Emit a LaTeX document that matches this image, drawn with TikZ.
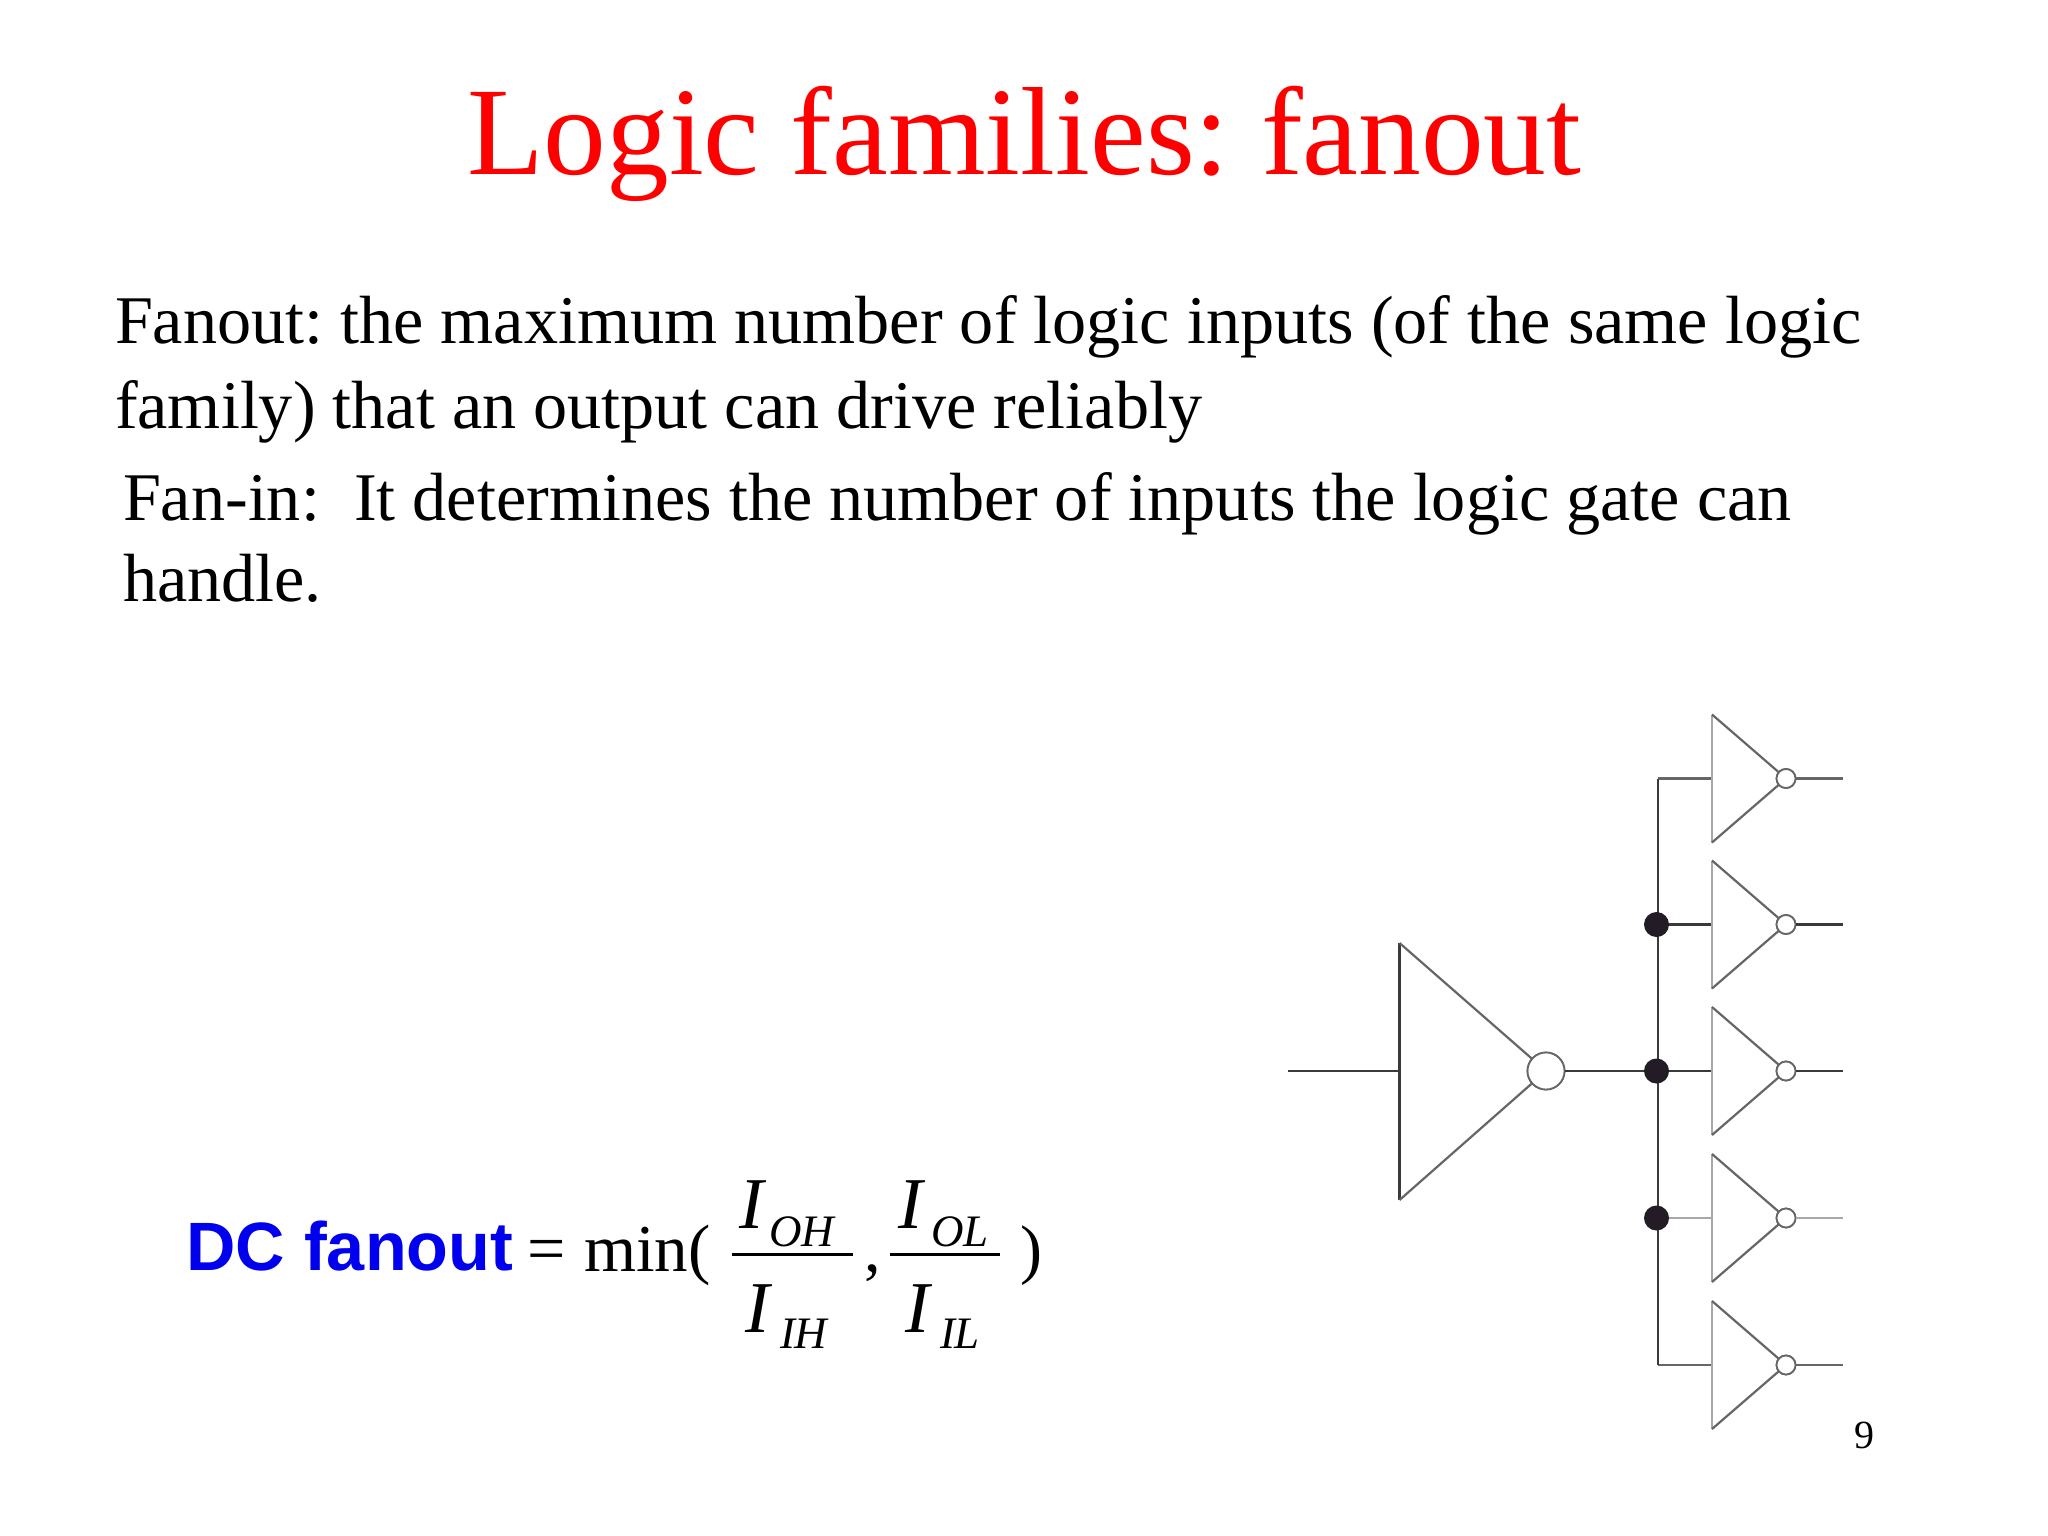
\documentclass[tikz,border=0pt]{standalone}
\usepackage{fontspec}
\setmainfont{Liberation Serif}
\newfontfamily\dcfont{Liberation Sans}
\frenchspacing
\definecolor{wirec}{HTML}{3A3A3A}
\definecolor{gatec}{HTML}{666666}
\definecolor{lightc}{HTML}{A8A8A8}
\definecolor{dotc}{HTML}{231C26}
\tikzset{
  tx/.style={anchor=base west,inner sep=0pt,outer sep=0pt},
  wire/.style={draw=wirec,line width=2.2pt},
  gateline/.style={draw=gatec,line width=2.2pt},
  bubble/.style={circle,draw=gatec,fill=white,line width=1.8pt,inner sep=0pt},
  jdot/.style={circle,fill=dotc,inner sep=0pt,minimum size=25pt},
  fracbar/.style={draw=black,line width=3pt},
}
\begin{document}
\begin{tikzpicture}[x=1pt,y=-1pt]
\useasboundingbox (0,0) rectangle (2048,1536);
\fill[white] (0,0) rectangle (2048,1536);
% text
\node[tx,text=red,font={\fontsize{125.4}{125.4}\selectfont}] (title) at (467,175) {Logic families: fanout};
\node[tx,font={\fontsize{68.2}{68.2}\selectfont}] (l1) at (115,343.5) {Fanout: the maximum number of logic inputs (of the same logic};
\node[tx,font={\fontsize{68.2}{68.2}\selectfont}] (l2) at (115,428.5) {family) that an output can drive reliably};
\node[tx,font={\fontsize{68.2}{68.2}\selectfont}] (l3) at (123,520) {Fan-in:\ \ It determines the number of inputs the logic gate can};
\node[tx,font={\fontsize{68.2}{68.2}\selectfont}] (l4) at (123,601.5) {handle.};
\node[tx,text={rgb,255:red,0;green,0;blue,238},font={\dcfont\bfseries\fontsize{68.4}{68.4}\selectfont}] (dc) at (186.5,1270) {DC fanout};
\node[tx,font={\fontsize{68}{68}\selectfont}] (eq) at (527,1271) {=};
\node[tx,font={\fontsize{67}{67}\selectfont}] (mn) at (584,1271) {min(};
\node[tx,font={\fontsize{66}{66}\selectfont}] (cm) at (864,1271) {,};
\node[tx,font={\fontsize{66}{66}\selectfont}] (cl) at (1020,1271) {)};
\node[tx,font={\itshape\fontsize{73}{73}\selectfont}] (i1) at (739,1228) {I};
\node[tx,font={\itshape\fontsize{45}{45}\selectfont}] (s1) at (769.5,1246) {OH};
\node[tx,font={\itshape\fontsize{73}{73}\selectfont}] (i2) at (745,1332) {I};
\node[tx,font={\itshape\fontsize{45}{45}\selectfont}] (s2) at (780,1348) {IH};
\node[tx,font={\itshape\fontsize{73}{73}\selectfont}] (i3) at (898,1228) {I};
\node[tx,font={\itshape\fontsize{45}{45}\selectfont}] (s3) at (931,1246) {OL};
\node[tx,font={\itshape\fontsize{73}{73}\selectfont}] (i4) at (905,1332) {I};
\node[tx,font={\itshape\fontsize{45}{45}\selectfont}] (s4) at (940,1348) {IL};
\draw[fracbar] (731.5,1254.5) -- (852.5,1254.5);
\draw[fracbar] (890,1254.5) -- (1000,1254.5);
\node[tx,font={\fontsize{40}{40}\selectfont}] (pg) at (1854,1448) {9};
% main inverter
\coordinate (inp) at (1287.5,1071);
\coordinate (mL) at (1399.5,1071);
\coordinate (mT) at (1399.5,943);
\coordinate (mB) at (1399.5,1200);
\node[bubble,minimum size=37pt] (mb) at (1546,1071) {};
\draw[wire] (inp) -- (mL);
\draw[wire] (mT) -- (mB);
\draw[gateline] (mT) -- (mb.center) -- (mB);
\node[bubble,minimum size=37pt] at (mb) {};
\coordinate (bus) at (1657,1071);
\draw[wire] (mb) -- (bus);
% small inverters
\foreach \n/\y/\c in {1/778.5/gatec,2/924.5/wirec,3/1071/wirec,4/1218/lightc,5/1365/gatec}{
  \coordinate (g\n) at (1712,\y);
  \coordinate (t\n) at (1712,\y-64);
  \coordinate (b\n) at (1712,\y+64);
  \coordinate (o\n) at (1843,\y);
  \coordinate (j\n) at (1658,\y);
  \draw[draw=\c,line width=2.2pt] (j\n) -- (g\n);
  \draw[draw=lightc,line width=2.8pt] (t\n) -- (b\n);
  \node[bubble,minimum size=19pt] (n\n) at (1786,\y) {};
  \draw[gateline] (t\n) -- (n\n.center) -- (b\n);
  \node[bubble,minimum size=19pt] at (n\n) {};
  \draw[draw=\c,line width=2.2pt] (n\n) -- (o\n);
}
\draw[wire] (j1) -- (j5);
\node[jdot] at (1656.5,924.5) {};
\node[jdot] at (1656.5,1071) {};
\node[jdot] at (1656.5,1218) {};
\end{tikzpicture}
\end{document}
